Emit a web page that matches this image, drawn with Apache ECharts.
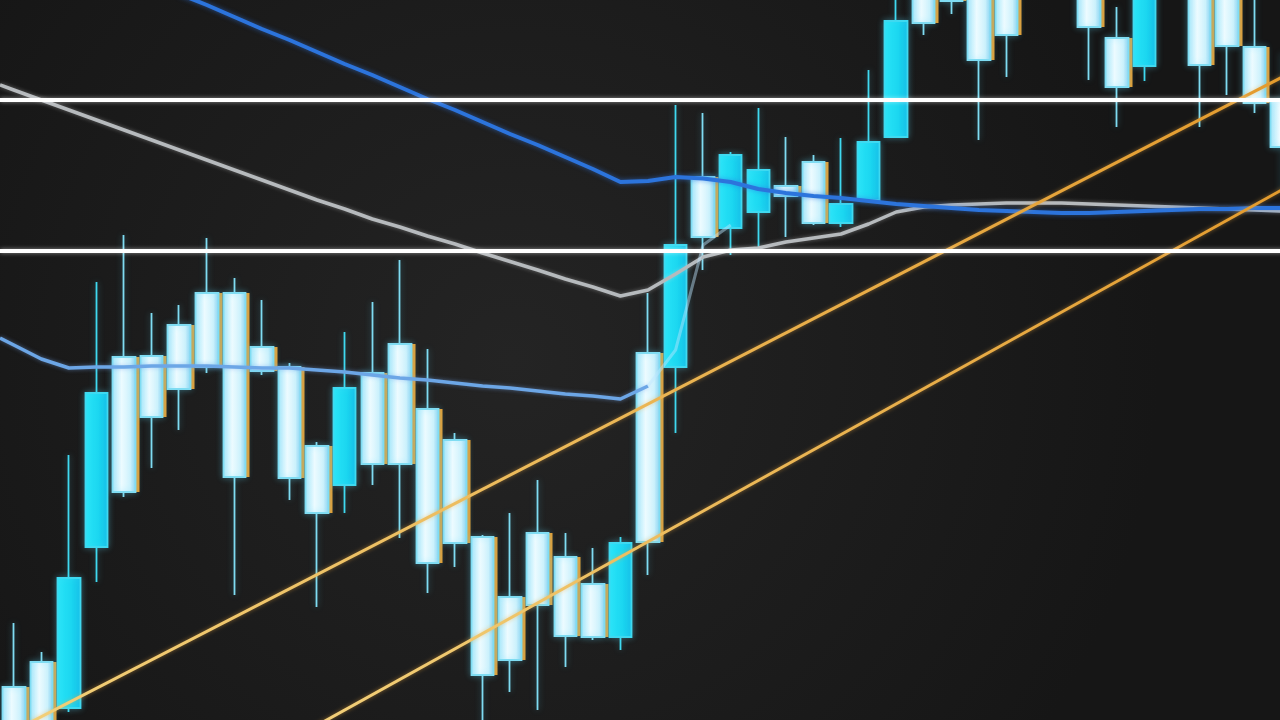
<!DOCTYPE html>
<html>
<head>
<meta charset="utf-8">
<script src="https://cdn.jsdelivr.net/npm/echarts/dist/echarts.min.js"></script>
<style>
html,body{margin:0;padding:0;background:#1b1b1b;overflow:hidden;}
#chart{width:1280px;height:720px;}
</style>
</head>
<body>
<div id="chart"></div>
<script>
// ---- data ----
const categories = Array.from({length: 47}, (_, i) => 'S' + (i + 1));

// [open, close, low, high]
const ohlc = [
  [103.3, 99.2, 98.0, 109.7],
  [105.8, 99.0, 97.5, 106.8],
  [101.2, 114.2, 100.8, 126.5],
  [117.3, 132.7, 113.8, 143.8],
  [136.3, 122.8, 122.3, 148.5],
  [136.4, 130.3, 125.2, 140.7],
  [139.5, 133.1, 129.0, 141.5],
  [142.7, 135.3, 134.7, 148.2],
  [142.7, 124.3, 112.5, 144.2],
  [137.3, 134.9, 134.5, 142.0],
  [135.3, 124.2, 122.0, 135.7],
  [127.4, 120.7, 111.3, 127.8],
  [123.5, 133.2, 120.7, 138.8],
  [134.7, 125.6, 123.5, 141.8],
  [137.6, 125.6, 118.2, 146.0],
  [131.1, 115.7, 112.7, 137.1],
  [128.0, 117.7, 115.3, 128.7],
  [118.3, 104.5, 98.0, 118.5],
  [112.3, 106.0, 102.8, 120.7],
  [118.7, 111.5, 101.0, 124.0],
  [116.3, 108.4, 105.3, 118.7],
  [113.6, 108.3, 108.0, 117.2],
  [108.3, 117.7, 107.0, 118.3],
  [136.7, 117.8, 114.5, 142.7],
  [135.3, 147.5, 128.7, 161.5],
  [154.3, 148.3, 145.0, 160.7],
  [149.2, 156.5, 146.5, 156.8],
  [150.8, 155.0, 147.3, 161.2],
  [153.4, 152.4, 148.3, 158.3],
  [155.8, 149.7, 149.5, 156.5],
  [149.7, 151.6, 149.3, 158.2],
  [152.0, 157.8, 151.8, 165.0],
  [158.3, 169.9, 158.2, 173.5],
  [174.0, 169.7, 168.5, 176.0],
  [175.0, 171.9, 170.6, 177.0],
  [174.5, 166.0, 158.0, 176.0],
  [174.0, 168.5, 164.3, 175.5],
  [178.0, 174.0, 173.0, 180.0],
  [179.0, 174.5, 173.3, 181.0],
  [175.0, 169.3, 164.0, 176.5],
  [168.2, 163.3, 159.3, 171.3],
  [165.4, 174.0, 163.9, 175.0],
  [177.0, 174.5, 173.2, 179.0],
  [174.0, 165.5, 159.3, 175.5],
  [174.5, 167.4, 162.5, 176.0],
  [167.3, 161.7, 160.7, 172.5],
  [162.0, 157.3, 152.8, 166.7]
];

const maBlue = [
  null, null, null, null, null, null,
  172.6, 171.5, 170.3, 169.1, 168.0, 166.8, 165.6, 164.5, 163.3, 162.1,
  161.0, 159.8, 158.6, 157.5, 156.3, 155.1, 153.8, 153.9, 154.3, 154.15,
  153.8, 153.1, 152.7, 152.4, 152.2, 151.9, 151.6, 151.4, 151.2, 151.0,
  150.9, 150.8, 150.7, 150.7, 150.8, 150.9, 151.0, 151.1, 151.1, 151.2, 151.2
];
const maBlueEnds = [null, 151.2];   // values at the left / right plot edges

const maGray = [
  163.0, 162.0, 161.0, 160.0, 159.0, 158.0, 157.0, 156.0, 155.0, 154.0,
  153.0, 152.0, 151.1, 150.1, 149.3, 148.4, 147.6, 146.7, 145.85, 145.0,
  144.1, 143.3, 142.4, 143.0, 144.6, 146.3, 147.0, 147.2, 147.8, 148.2,
  148.6, 149.6, 150.8, 151.3, 151.5, 151.6, 151.7, 151.7, 151.7, 151.6,
  151.5, 151.4, 151.3, 151.2, 151.1, 151.0, 150.9
];
const maGrayEnds = [163.5, 150.8];

const maLight = [
  137.5, 136.1, 135.2, 135.3, 135.3, 135.4, 135.4, 135.4, 135.3, 135.2,
  135.2, 135.0, 134.8, 134.5, 134.2, 134.0, 133.7, 133.4, 133.2, 132.9,
  132.6, 132.4, 132.1, 133.4
];
const maLightEnds = [138.2, null];
const glare = [133.4, 137.0, 147.5, 149.5];   // faint continuation, sessions 24-27

const levels = [162.0, 146.9];
const trendA = [[-0.5, 98.2], [46.5, 165.0]];
const trendB = [[10.5, 98.7], [46.5, 153.8]];

const priceMin = 100, priceMax = 172;

// ---- chart ----
const chart = echarts.init(document.getElementById('chart'), null, {renderer: 'canvas'});
const G = echarts.graphic;
const N = categories.length;

function toXY(arr, ends, offset) {
  const pts = [];
  if (ends && ends[0] != null) pts.push([-0.5, ends[0]]);
  arr.forEach((v, i) => { if (v != null) pts.push([i + (offset || 0), v]); });
  if (ends && ends[1] != null) pts.push([N - 0.5, ends[1]]);
  return pts;
}

const lightFill = new G.LinearGradient(0, 0, 1, 0, [
  {offset: 0, color: '#a6e6f9'},
  {offset: 0.4, color: '#ecfbff'},
  {offset: 0.75, color: '#cff2fc'},
  {offset: 1, color: '#8ad0f0'}
]);
const cyanFill = new G.LinearGradient(0, 0, 1, 0, [
  {offset: 0, color: '#2ae6f8'},
  {offset: 0.6, color: '#1bd6f0'},
  {offset: 1, color: '#12bde6'}
]);

const shadowData = ohlc.map(c => (c[1] < c[0] ? c : '-'));

const orangeGrad = new G.LinearGradient(0, 1, 1, 0, [
  {offset: 0, color: '#f2d07a'},
  {offset: 1, color: '#e39a2c'}
]);

const option = {
  backgroundColor: new G.RadialGradient(0.4, 0.5, 0.9, [
    {offset: 0, color: '#242424'},
    {offset: 1, color: '#161616'}
  ]),
  animation: false,
  grid: [
    {left: 0, width: 1296, top: 0, bottom: 0, outerBoundsMode: 'none', containLabel: false},
    {left: 4, width: 1296, top: 0, bottom: 0, outerBoundsMode: 'none', containLabel: false}
  ],
  xAxis: [
    {type: 'category', data: categories, gridIndex: 0, show: false, boundaryGap: true},
    {type: 'category', data: categories, gridIndex: 1, show: false, boundaryGap: true},
    {type: 'value', gridIndex: 0, min: -0.5, max: N - 0.5, show: false, splitLine: {show: false}}
  ],
  yAxis: [
    {type: 'value', gridIndex: 0, min: priceMin, max: priceMax, show: false, splitLine: {show: false}},
    {type: 'value', gridIndex: 1, min: priceMin, max: priceMax, show: false, splitLine: {show: false}}
  ],
  series: [
    {
      type: 'candlestick', name: 'edge', xAxisIndex: 1, yAxisIndex: 1,
      data: shadowData, barWidth: 23, z: 1, clip: true,
      itemStyle: {color: '#e99b2b', color0: '#e99b2b', borderColor: 'rgba(0,0,0,0)', borderColor0: 'rgba(0,0,0,0)', borderWidth: 0}
    },
    {
      type: 'candlestick', name: 'price', xAxisIndex: 0, yAxisIndex: 0,
      data: ohlc, barWidth: 23, z: 2, clip: true,
      itemStyle: {
        color: cyanFill, color0: lightFill,
        borderColor: '#3fd9f0', borderColor0: '#7fdcf2', borderWidth: 1.8,
        shadowBlur: 6, shadowColor: 'rgba(90,220,255,0.35)'
      }
    },
    {
      type: 'line', name: 'gray', data: toXY(maGray, maGrayEnds), xAxisIndex: 2, yAxisIndex: 0,
      symbol: 'none', z: 3,
      lineStyle: {color: '#b6babd', width: 3.5, shadowBlur: 4, shadowColor: 'rgba(220,220,220,0.4)'}
    },
    {
      type: 'line', name: 'lightblue', data: toXY(maLight, maLightEnds), xAxisIndex: 2, yAxisIndex: 0,
      symbol: 'none', z: 3,
      lineStyle: {color: '#6ca6e6', width: 3.5, shadowBlur: 4, shadowColor: 'rgba(120,170,240,0.5)'}
    },
    {
      type: 'line', name: 'glare', data: toXY(glare, null, 23), xAxisIndex: 2, yAxisIndex: 0,
      symbol: 'none', z: 3,
      lineStyle: {color: '#bfe6ff', width: 3, opacity: 0.45}
    },
    {
      type: 'line', name: 'blue', data: toXY(maBlue, maBlueEnds), xAxisIndex: 2, yAxisIndex: 0,
      symbol: 'none', z: 3,
      lineStyle: {color: '#2c74dc', width: 4, shadowBlur: 5, shadowColor: 'rgba(50,120,230,0.6)'}
    },
    {
      type: 'line', name: 'trendA', data: trendA, xAxisIndex: 2, yAxisIndex: 0,
      symbol: 'none', z: 4,
      lineStyle: {color: orangeGrad, width: 3, shadowBlur: 4, shadowColor: 'rgba(240,170,60,0.5)'}
    },
    {
      type: 'line', name: 'trendB', data: trendB, xAxisIndex: 2, yAxisIndex: 0,
      symbol: 'none', z: 4,
      lineStyle: {color: orangeGrad, width: 3, shadowBlur: 4, shadowColor: 'rgba(240,170,60,0.5)'}
    },
    {
      type: 'line', name: 'levels', data: [], xAxisIndex: 0, yAxisIndex: 0, z: 5,
      markLine: {
        silent: true, symbol: ['none', 'none'], label: {show: false},
        lineStyle: {color: '#ffffff', width: 4, type: 'solid', shadowBlur: 4, shadowColor: 'rgba(255,255,255,0.5)'},
        data: levels.map(v => ({yAxis: v}))
      }
    }
  ]
};
chart.setOption(option);
</script>
</body>
</html>
